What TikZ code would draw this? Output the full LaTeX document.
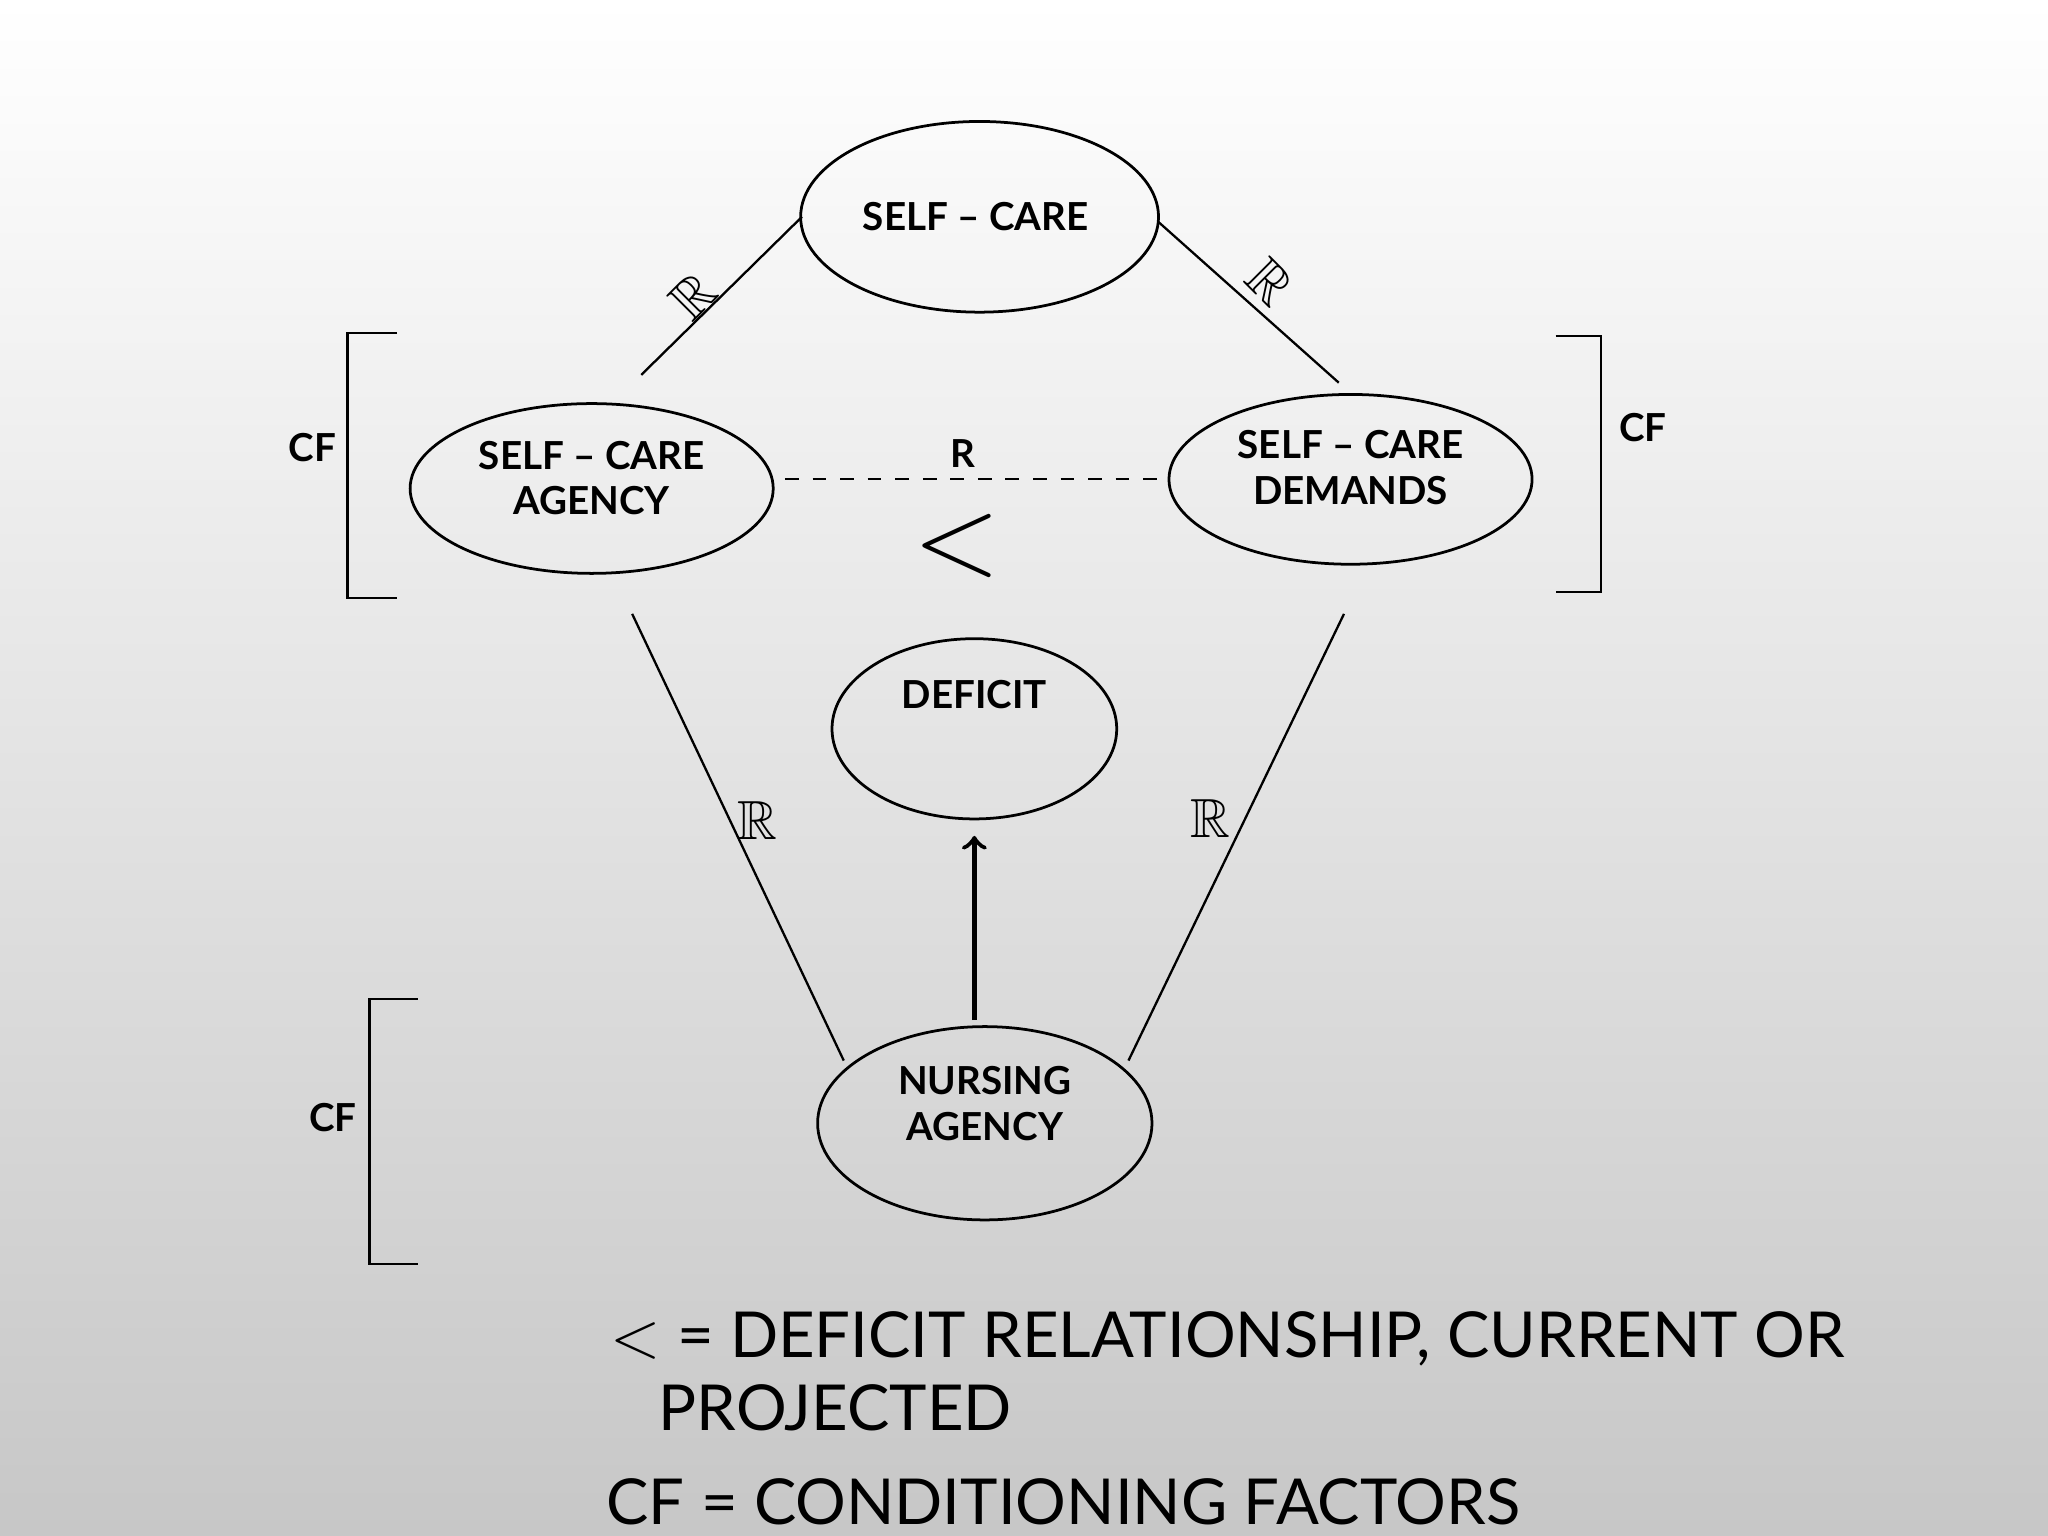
\documentclass[tikz,border=0pt]{standalone}
\usepackage{amssymb}
\usepackage{fontspec}
\setmainfont{Lato}
\begin{document}
\begin{tikzpicture}[x=0.01cm,y=-0.01cm,
  lbl/.style={font=\fontsize{8.4}{10}\selectfont\bfseries,align=center},
  ln/.style={line width=0.5pt},
  big/.style={font=\fontsize{13.8}{16}\selectfont,anchor=west}]
\shade[top color=white,bottom color=black!22] (0,0) rectangle (1568,1176);
\useasboundingbox (0,0) rectangle (1568,1176);
% ellipses
\draw[line width=0.6pt] (750,166) ellipse [x radius=137, y radius=73];
\draw[line width=0.6pt] (453,374) ellipse [x radius=139, y radius=65];
\draw[line width=0.6pt] (1034,367) ellipse [x radius=139, y radius=65];
\draw[line width=0.6pt] (746,558) ellipse [x radius=109, y radius=69];
\draw[line width=0.6pt] (754,860) ellipse [x radius=128, y radius=74];
\node[lbl] (sc) at (747,166) {SELF -- CARE};
\node[lbl] (sca) at (453,366) {SELF -- CARE\\AGENCY};
\node[lbl] (scd) at (1034,358) {SELF -- CARE\\DEMANDS};
\node[lbl] (def) at (746,532) {DEFICIT};
\node[lbl] (na) at (754,845) {NURSING\\AGENCY};
% connectors
\coordinate (a1) at (491,287); \coordinate (a2) at (614,166);
\coordinate (b1) at (887,170); \coordinate (b2) at (1025,293);
\coordinate (c1) at (601,367); \coordinate (c2) at (895,367);
\coordinate (d1) at (484,470); \coordinate (d2) at (646,812);
\coordinate (e1) at (1029,470); \coordinate (e2) at (864,812);
\coordinate (f1) at (746,781); \coordinate (f2) at (746,640);
\draw[ln] (a1) -- (a2);
\draw[ln] (b1) -- (b2);
\draw[ln,dashed] (c1) -- (c2);
\draw[ln] (d1) -- (d2);
\draw[ln] (e1) -- (e2);
\draw[line width=1pt,->] (f1) -- (f2);
\node[rotate=45,font=\large] (r1) at (531,227) {$\mathbb{R}$};
\node[rotate=-45,font=\large] (r2) at (972,216) {$\mathbb{R}$};
\node[lbl] (r3) at (737,347) {R};
\node[font=\large] (r4) at (580,628) {$\mathbb{R}$};
\node[font=\large] (r5) at (927,627) {$\mathbb{R}$};
\node[font=\fontsize{40}{40}\selectfont] (lt) at (733,418) {$<$};
% brackets
\draw[ln] (304,255) -- (266,255) -- (266,458) -- (304,458);
\draw[ln] (1191,257) -- (1226,257) -- (1226,453) -- (1191,453);
\draw[ln] (320,765) -- (283,765) -- (283,968) -- (320,968);
\node[lbl] (cf1) at (239,343) {CF};
\node[lbl] (cf2) at (1258,327) {CF};
\node[lbl] (cf3) at (255,856) {CF};
% legend
\node[big] (l1) at (455,1025) {$<$ = DEFICIT RELATIONSHIP, CURRENT OR};
\node[big] (l2) at (492,1078) {PROJECTED};
\node[big] (l3) at (452,1150) {CF = CONDITIONING FACTORS};
\end{tikzpicture}
\end{document}
